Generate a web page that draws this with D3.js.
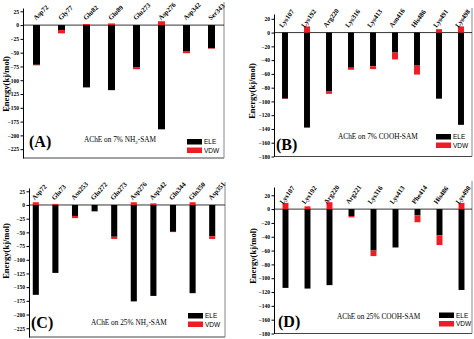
<!DOCTYPE html>
<html>
<head>
<meta charset="utf-8">
<script src="https://cdn.jsdelivr.net/npm/d3@7"></script>
<style>
  body { margin: 0; background: #fff; }
  svg { display: block; }
  .tick text { font-family: "Liberation Serif", serif; font-weight: bold; font-size: 5.5px; fill: #000; }
  .cat { font-family: "Liberation Serif", serif; font-weight: bold; font-size: 6.8px; }
  .ylab { font-family: "Liberation Serif", serif; font-weight: bold; font-size: 8.5px; }
  .tag { font-family: "Liberation Serif", serif; font-weight: bold; font-size: 16px; }
  .note { font-family: "Liberation Serif", serif; font-size: 7.3px; }
  .leg { font-family: "Liberation Sans", Arial, sans-serif; font-size: 6.5px; }
</style>
</head>
<body>
<svg width="474" height="339"></svg>
<script>
// residue contributions, kJ/mol
var catsA = ["Asp72", "Gly77", "Glu82", "Glu89", "Glu273", "Asp276", "Asp342", "Ser343"];
var eleA  = [-72, -9, -113, -118, -77, -189, -47, -42];
var vdwA  = [-1, -6, 2, 3, -3, 7, -4, -1];

var catsB = ["Lys107", "Lys192", "Arg220", "Lys316", "Lys413", "Asn416", "His486", "Lys491", "Lys498"];
var eleB  = [-96, -138, -85, -51, -49, -29, -48, -96, -134];
var vdwB  = [-0.5, 9, -4, -3, -4, -10, -13, 5, 9];

var catsC = ["Asp72", "Glu73", "Asn253", "Glu272", "Glu273", "Asp276", "Asp342", "Gln344", "Gln350", "Asp351"];
var eleC  = [-164, -124, -20, -11, -58, -176, -166, -49, -161, -57];
var vdwC  = [5, 2, -4, -1, -4, 5, 3, -0.5, 5, -5];

var catsD = ["Lys107", "Lys192", "Arg220", "Arg221", "Lys316", "Lys413", "Phe414", "His486", "Lys498"];
var eleD  = [-114, -115, -110, -10, -60, -55, -9, -38, -117];
var vdwD  = [9, 4, 10, -2, -8, -1, -10, -14, 9];

var ticksNH2  = [25, 0, -25, -50, -75, -100, -125, -150, -175, -200, -225];
var ticksCOOH = [20, 0, -20, -40, -60, -80, -100, -120, -140, -160, -180];

var seriesNames = ["ELE", "VDW"];
var colors = { ELE: "#000000", VDW: "#ee1c25" };

var svg = d3.select("svg");

var panels = [
  { tag: "(A)", note: ["AChE on 7% NH", "2", "-SAM"], cats: catsA, ele: eleA, vdw: vdwA, ticks: ticksNH2,
    x0: 23, x1: 224, band: [24, 224], pad: 0.72, dom: [31, -241], rng: [8, 158], rot: -45, dx: -0.5,
    ylabX: 8.5, ylabY: 84, noteX: 84, noteY: 142, tagX: 29, tagY: 147, legX: 187, legY: 139 },
  { tag: "(B)", note: ["AChE on 7% COOH-SAM"], cats: catsB, ele: eleB, vdw: vdwB, ticks: ticksCOOH,
    x0: 274, x1: 472, band: [274, 472], pad: 0.73, dom: [27, -180], rng: [14, 156.5], rot: -54, dx: -2.5,
    ylabX: 255, ylabY: 91, noteX: 338, noteY: 138.5, tagX: 276, tagY: 149.5, legX: 436, legY: 134 },
  { tag: "(C)", note: ["AChE on 25% NH", "2", "-SAM"], cats: catsC, ele: eleC, vdw: vdwC, ticks: ticksNH2,
    x0: 29, x1: 225, band: [26, 222], pad: 0.69, dom: [31, -241], rng: [188, 337], rot: -48, dx: -1,
    ylabX: 8.5, ylabY: 251, noteX: 91, noteY: 325, tagX: 31, tagY: 328, legX: 188, legY: 313 },
  { tag: "(D)", note: ["AChE on 25% COOH-SAM"], cats: catsD, ele: eleD, vdw: vdwD, ticks: ticksCOOH,
    x0: 274, x1: 472, band: [274.5, 472.5], pad: 0.73, dom: [32, -180], rng: [187, 333.5], rot: -54, dx: -2.5,
    ylabX: 256, ylabY: 256, noteX: 337, noteY: 318.5, tagX: 278, tagY: 327, legX: 439, legY: 312.5 }
];

panels.forEach(function(p) {
  var g = svg.append("g");

  var x = d3.scaleBand().domain(p.cats).range(p.band).paddingInner(p.pad).paddingOuter(p.pad / 2);
  var y = d3.scaleLinear().domain(p.dom).range(p.rng);

  // frame: bottom and right edges
  g.append("line").attr("x1", p.x0).attr("x2", p.x1).attr("y1", p.rng[1]).attr("y2", p.rng[1])
    .attr("stroke", "#444").attr("stroke-width", 1);
  g.append("line").attr("x1", p.x1).attr("x2", p.x1).attr("y1", p.rng[0] - 6).attr("y2", p.rng[1])
    .attr("stroke", "#888").attr("stroke-width", 1);

  // y axis
  var ax = g.append("g")
    .attr("transform", "translate(" + p.x0 + ",0)")
    .call(d3.axisLeft(y).tickValues(p.ticks).tickSize(2.5).tickPadding(1.5).tickSizeOuter(0));
  ax.select(".domain").attr("stroke", "#000").attr("stroke-width", 1);

  // zero line
  g.append("line").attr("x1", p.x0).attr("x2", p.x1).attr("y1", y(0)).attr("y2", y(0))
    .attr("stroke", "#000").attr("stroke-width", 0.8);

  var rows = p.cats.map(function(c, i) { return { cat: c, ele: p.ele[i], vdw: p.vdw[i] }; });

  g.selectAll(".ele").data(rows).enter().append("rect")
    .attr("x", function(d) { return x(d.cat); })
    .attr("width", x.bandwidth())
    .attr("y", y(0))
    .attr("height", function(d) { return y(d.ele) - y(0); })
    .attr("fill", colors.ELE);

  // VDW sits above zero when positive, below the ELE bar when negative
  g.selectAll(".vdw").data(rows).enter().append("rect")
    .attr("x", function(d) { return x(d.cat); })
    .attr("width", x.bandwidth())
    .attr("y", function(d) { return d.vdw > 0 ? y(d.vdw) : y(d.ele); })
    .attr("height", function(d) {
      return d.vdw > 0 ? y(0) - y(d.vdw) : y(d.ele + d.vdw) - y(d.ele);
    })
    .attr("fill", colors.VDW);

  // residue names
  g.selectAll(".cat").data(p.cats).enter().append("text")
    .attr("class", "cat")
    .attr("transform", function(d) {
      return "translate(" + (x(d) + x.bandwidth() / 2 + p.dx) + "," + (y(0) - 4.5) + ") rotate(" + p.rot + ")";
    })
    .text(function(d) { return d; });

  g.append("text").attr("class", "ylab")
    .attr("transform", "translate(" + p.ylabX + "," + p.ylabY + ") rotate(-90)")
    .attr("text-anchor", "middle")
    .text("Energy(kj/mol)");

  g.append("text").attr("class", "tag").attr("x", p.tagX).attr("y", p.tagY).text(p.tag);

  var note = g.append("text").attr("class", "note").attr("x", p.noteX).attr("y", p.noteY);
  note.append("tspan").text(p.note[0]);
  if (p.note.length > 1) {
    note.append("tspan").attr("dy", 2).attr("font-size", "5px").text(p.note[1]);
    note.append("tspan").attr("dy", -2).text(p.note[2]);
  }

  var leg = g.selectAll(".leg").data(seriesNames).enter().append("g")
    .attr("transform", function(d, i) { return "translate(" + p.legX + "," + (p.legY + i * 8.5) + ")"; });
  leg.append("rect").attr("width", 15).attr("height", 5.5).attr("fill", function(d) { return colors[d]; });
  leg.append("text").attr("class", "leg").attr("x", 17).attr("y", 5).text(function(d) { return d; });
});
</script>
</body>
</html>
